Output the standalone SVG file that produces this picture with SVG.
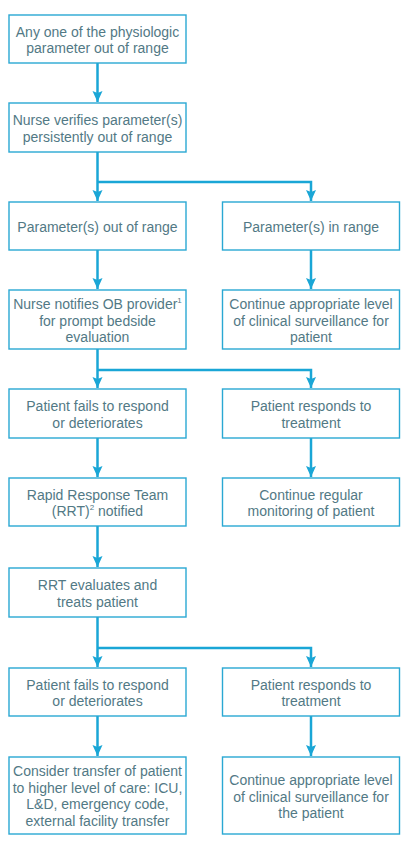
<svg xmlns="http://www.w3.org/2000/svg" width="415" height="850" viewBox="0 0 415 850">
<style>
.box{fill:#ffffff;stroke:#2aa8d3;stroke-width:1.4}
.t{font-family:"Liberation Sans",Arial,sans-serif;font-size:14px;fill:#527985;text-anchor:middle}
.c{fill:none;stroke:#1aa6d6;stroke-width:2.5}
.sup{font-size:8px}
</style>
<defs>
<marker id="ah" markerUnits="userSpaceOnUse" markerWidth="12" markerHeight="12" viewBox="0 0 12 10" refX="11" refY="5" orient="auto">
<path d="M0,0 L11,5 L0,10 L2,5 z" fill="#1aa6d6"/>
</marker>
</defs>
<rect width="415" height="850" fill="#ffffff"/>
<g id="connectors">
<path class="c" d="M97.5,63 V102" marker-end="url(#ah)"/>
<path class="c" d="M97.5,152 V201" marker-end="url(#ah)"/>
<path class="c" d="M97.5,182 H311 V201" marker-end="url(#ah)"/>
<path class="c" d="M97.5,250 V289" marker-end="url(#ah)"/>
<path class="c" d="M311,250 V289" marker-end="url(#ah)"/>
<path class="c" d="M97.5,349 V388" marker-end="url(#ah)"/>
<path class="c" d="M97.5,370 H311 V388" marker-end="url(#ah)"/>
<path class="c" d="M97.5,438 V477" marker-end="url(#ah)"/>
<path class="c" d="M311,438 V477" marker-end="url(#ah)"/>
<path class="c" d="M97.5,526 V567" marker-end="url(#ah)"/>
<path class="c" d="M97.5,617 V667" marker-end="url(#ah)"/>
<path class="c" d="M97.5,648 H311 V667" marker-end="url(#ah)"/>
<path class="c" d="M97.5,716 V756" marker-end="url(#ah)"/>
<path class="c" d="M311,716 V756" marker-end="url(#ah)"/>
</g>
<g id="n1"><rect class="box" x="9" y="15" width="177" height="48"/>
<text class="t" x="97.5" y="36.75">Any one of the physiologic</text>
<text class="t" x="97.5" y="53">parameter out of range</text></g>
<g id="n2"><rect class="box" x="9" y="103" width="177" height="49"/>
<text class="t" x="97.5" y="125.25">Nurse verifies parameter(s)</text>
<text class="t" x="97.5" y="141.5">persistently out of range</text></g>
<g id="n3"><rect class="box" x="9" y="202" width="177" height="48"/>
<text class="t" x="97.5" y="232">Parameter(s) out of range</text></g>
<g id="n4"><rect class="box" x="222.5" y="202" width="177" height="48"/>
<text class="t" x="311" y="232">Parameter(s) in range</text></g>
<g id="n5"><rect class="box" x="9" y="290" width="177" height="59"/>
<text class="t" x="97.5" y="309">Nurse notifies OB provider<tspan class="sup" dy="-6">1</tspan></text>
<text class="t" x="97.5" y="325.5">for prompt bedside</text>
<text class="t" x="97.5" y="342">evaluation</text></g>
<g id="n6"><rect class="box" x="222.5" y="290" width="177" height="59"/>
<text class="t" x="311" y="309">Continue appropriate level</text>
<text class="t" x="311" y="325.5">of clinical surveillance for</text>
<text class="t" x="311" y="342">patient</text></g>
<g id="n7"><rect class="box" x="9" y="389" width="177" height="49"/>
<text class="t" x="97.5" y="411.25">Patient fails to respond</text>
<text class="t" x="97.5" y="427.5">or deteriorates</text></g>
<g id="n8"><rect class="box" x="222.5" y="389" width="177" height="49"/>
<text class="t" x="311" y="411.25">Patient responds to</text>
<text class="t" x="311" y="427.5">treatment</text></g>
<g id="n9"><rect class="box" x="9" y="478" width="177" height="48"/>
<text class="t" x="97.5" y="499.75">Rapid Response Team</text>
<text class="t" x="97.5" y="516">(RRT)<tspan class="sup" dy="-6">2</tspan><tspan dy="6"> notified</tspan></text></g>
<g id="n10"><rect class="box" x="222.5" y="478" width="177" height="48"/>
<text class="t" x="311" y="499.75">Continue regular</text>
<text class="t" x="311" y="516">monitoring of patient</text></g>
<g id="n11"><rect class="box" x="9" y="568" width="177" height="49"/>
<text class="t" x="97.5" y="590.25">RRT evaluates and</text>
<text class="t" x="97.5" y="606.5">treats patient</text></g>
<g id="n12"><rect class="box" x="9" y="668" width="177" height="48"/>
<text class="t" x="97.5" y="689.75">Patient fails to respond</text>
<text class="t" x="97.5" y="706">or deteriorates</text></g>
<g id="n13"><rect class="box" x="222.5" y="668" width="177" height="48"/>
<text class="t" x="311" y="689.75">Patient responds to</text>
<text class="t" x="311" y="706">treatment</text></g>
<g id="n14"><rect class="box" x="9" y="757" width="177" height="77"/>
<text class="t" x="97.5" y="776">Consider transfer of patient</text>
<text class="t" x="97.5" y="792.5">to higher level of care: ICU,</text>
<text class="t" x="97.5" y="809">L&amp;D, emergency code,</text>
<text class="t" x="97.5" y="825.5">external facility transfer</text></g>
<g id="n15"><rect class="box" x="222.5" y="757" width="177" height="77"/>
<text class="t" x="311" y="785">Continue appropriate level</text>
<text class="t" x="311" y="801.5">of clinical surveillance for</text>
<text class="t" x="311" y="818">the patient</text></g>
</svg>
